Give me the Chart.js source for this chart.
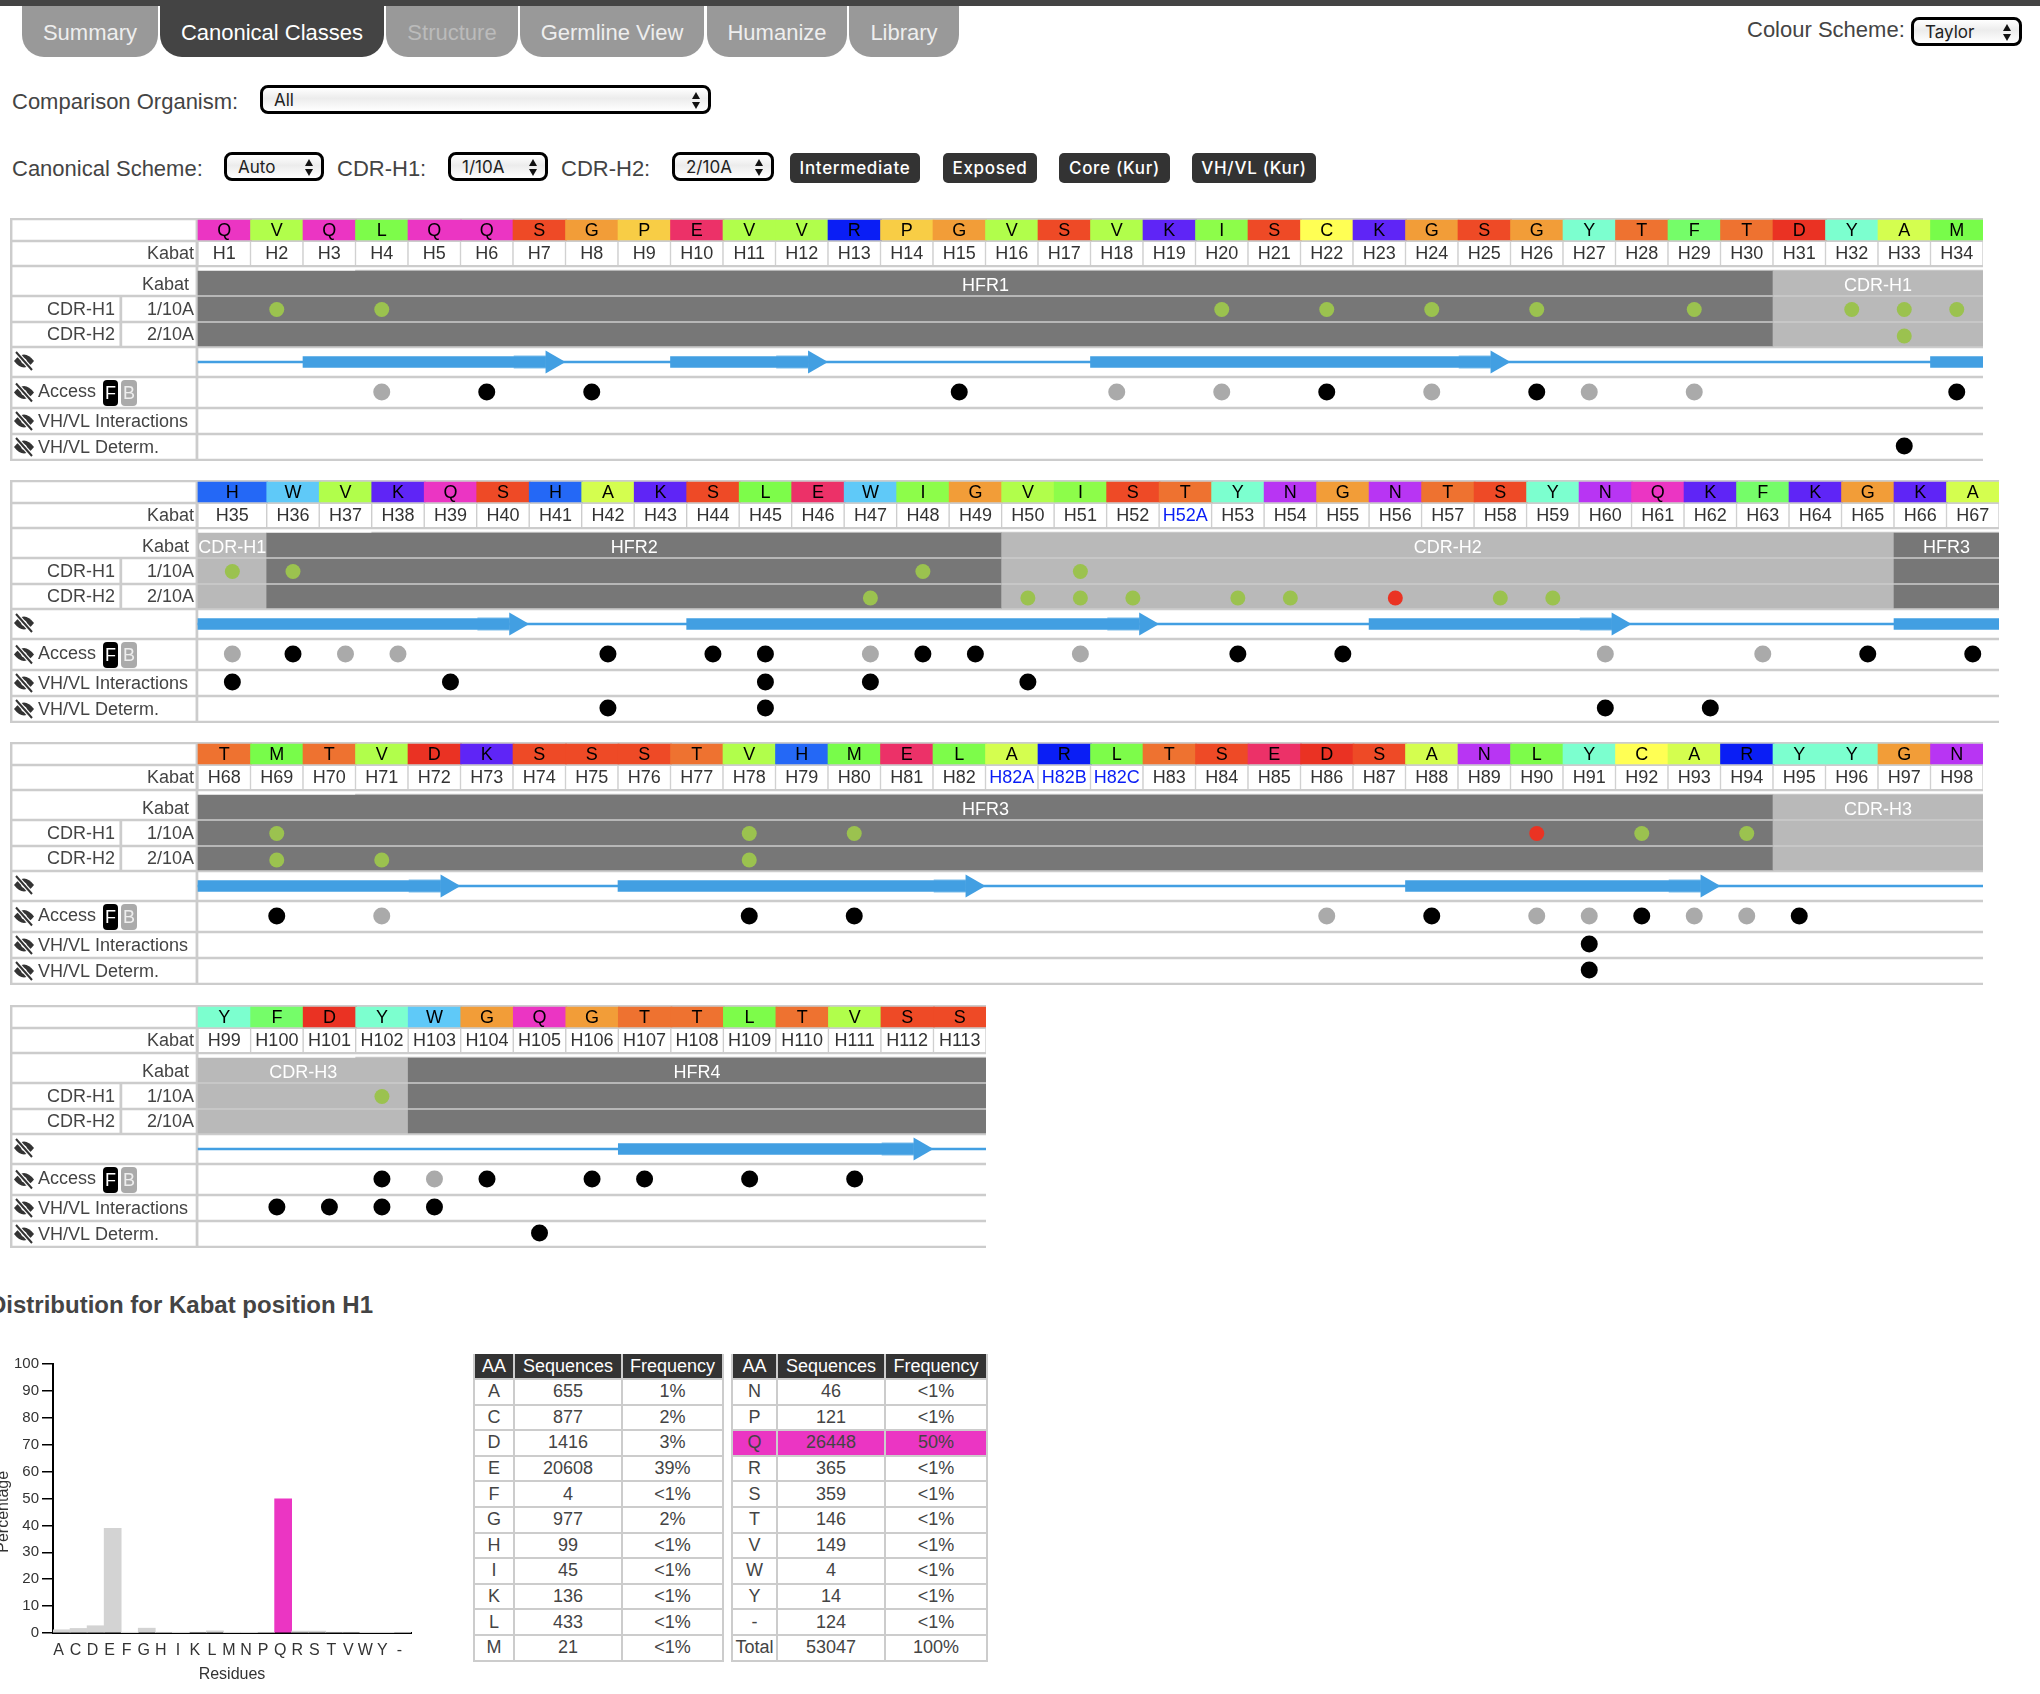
<!DOCTYPE html>
<html>
<head>
<meta charset="utf-8">
<title>Canonical Classes</title>
<script src="https://cdn.jsdelivr.net/npm/chart.js@4"></script>
<style>
html, body { margin: 0; padding: 0; background: #fff; }
body { position: relative; width: 2040px; height: 1694px; overflow: hidden; font-family: "Liberation Sans", Arial, sans-serif; color: #444; }
.abs { position: absolute; white-space: nowrap; }
#topbar { left: 0; top: 0; width: 2040px; height: 6px; background: #444; }
.tab { top: 6px; height: 51px; line-height: 53px; text-align: center; background: #999; color: #eee; font-size: 22px; border-radius: 0 0 22px 22px; }
.tab.on { background: #444; color: #fff; }
.tab.off { color: #bbb; }
.lab { font-size: 22px; line-height: 26px; color: #444; }
.sel { box-sizing: border-box; height: 29px; line-height: 24px; border: 3px solid #000; border-radius: 8px; background: linear-gradient(#fff, #ececec 45%, #fff); color: #222; font-family: Inter, "Liberation Sans", sans-serif; font-size: 17px; padding-left: 11px; }
.sel i { position: absolute; right: 8px; width: 0; height: 0; border-left: 4px solid transparent; border-right: 4px solid transparent; }
.sel i.u { top: 4px; border-bottom: 7px solid #111; }
.sel i.d { top: 14px; border-top: 7px solid #111; }
.btn { top: 153px; height: 30px; line-height: 31px; text-align: center; background: #333; color: #fff; font-family: Inter, "Liberation Sans", sans-serif; font-size: 17px; font-weight: 500; letter-spacing: .7px; border-radius: 5px; }
#dist-title { left: -11px; top: 1291px; font-size: 24px; line-height: 28px; font-weight: bold; color: #444; }
canvas { position: absolute; display: block; }
table.freq { position: absolute; top: 1354px; border-collapse: collapse; table-layout: fixed; font-size: 18px; color: #444; text-align: center; }
table.freq th { background: #333; color: #fff; font-weight: normal; height: 24px; padding: 0; border: 2px solid #ccc; border-top: 0; }
table.freq td { height: 23.6px; padding: 0; border: 2px solid #ccc; }
table.freq td.hit { background: #eb35c3; }
</style>
</head>
<body>
<div class="abs" id="topbar"></div>
<div class="abs tab" style="left:22px;width:136px">Summary</div>
<div class="abs tab on" style="left:160px;width:224px">Canonical Classes</div>
<div class="abs tab off" style="left:386px;width:132px">Structure</div>
<div class="abs tab" style="left:520px;width:184px">Germline View</div>
<div class="abs tab" style="left:707px;width:140px">Humanize</div>
<div class="abs tab" style="left:849px;width:110px">Library</div>

<div class="abs lab" style="left:1747px;top:17px">Colour Scheme:</div>
<div class="abs sel" style="left:1911px;top:17px;width:111px">Taylor<i class="u"></i><i class="d"></i></div>

<div class="abs lab" style="left:12px;top:89px">Comparison Organism:</div>
<div class="abs sel" style="left:260px;top:85px;width:451px">All<i class="u"></i><i class="d"></i></div>

<div class="abs lab" style="left:12px;top:156px">Canonical Scheme:</div>
<div class="abs sel" style="left:224px;top:152px;width:100px">Auto<i class="u"></i><i class="d"></i></div>
<div class="abs lab" style="left:337px;top:156px">CDR-H1:</div>
<div class="abs sel" style="left:448px;top:152px;width:100px">1/10A<i class="u"></i><i class="d"></i></div>
<div class="abs lab" style="left:561px;top:156px">CDR-H2:</div>
<div class="abs sel" style="left:672px;top:152px;width:102px">2/10A<i class="u"></i><i class="d"></i></div>
<div class="abs btn" style="left:790px;width:130px">Intermediate</div>
<div class="abs btn" style="left:943px;width:94px">Exposed</div>
<div class="abs btn" style="left:1059px;width:111px">Core (Kur)</div>
<div class="abs btn" style="left:1192px;width:124px">VH/VL (Kur)</div>

<canvas id="track1" style="left:10px;top:218px"></canvas>
<canvas id="track2" style="left:10px;top:480px"></canvas>
<canvas id="track3" style="left:10px;top:742px"></canvas>
<canvas id="track4" style="left:10px;top:1005px"></canvas>

<div class="abs" id="dist-title">Distribution for Kabat position H1</div>
<canvas id="dist-chart" style="left:-10px;top:1340px"></canvas>
<table class="freq" id="freq-left" style="left:473px;width:251px"></table>
<table class="freq" id="freq-right" style="left:731px;width:257px"></table>

<script>
// residues and Kabat positions, one pair per alignment block
const residues1 = ['Q','V','Q','L','Q','Q','S','G','P','E','V','V','R','P','G','V','S','V','K','I','S','C','K','G','S','G','Y','T','F','T','D','Y','A','M'];
const kabat1 = ['H1','H2','H3','H4','H5','H6','H7','H8','H9','H10','H11','H12','H13','H14','H15','H16','H17','H18','H19','H20','H21','H22','H23','H24','H25','H26','H27','H28','H29','H30','H31','H32','H33','H34'];
const residues2 = ['H','W','V','K','Q','S','H','A','K','S','L','E','W','I','G','V','I','S','T','Y','N','G','N','T','S','Y','N','Q','K','F','K','G','K','A'];
const kabat2 = ['H35','H36','H37','H38','H39','H40','H41','H42','H43','H44','H45','H46','H47','H48','H49','H50','H51','H52','H52A','H53','H54','H55','H56','H57','H58','H59','H60','H61','H62','H63','H64','H65','H66','H67'];
const residues3 = ['T','M','T','V','D','K','S','S','S','T','V','H','M','E','L','A','R','L','T','S','E','D','S','A','N','L','Y','C','A','R','Y','Y','G','N'];
const kabat3 = ['H68','H69','H70','H71','H72','H73','H74','H75','H76','H77','H78','H79','H80','H81','H82','H82A','H82B','H82C','H83','H84','H85','H86','H87','H88','H89','H90','H91','H92','H93','H94','H95','H96','H97','H98'];
const residues4 = ['Y','F','D','Y','W','G','Q','G','T','T','L','T','V','S','S'];
const kabat4 = ['H99','H100','H101','H102','H103','H104','H105','H106','H107','H108','H109','H110','H111','H112','H113'];

// framework / CDR regions: name, first position, last position
const regions1 = [['HFR1','H1','H30'], ['CDR-H1','H31','H34']];
const regions2 = [['CDR-H1','H35','H35'], ['HFR2','H36','H49'], ['CDR-H2','H50','H65'], ['HFR3','H66','H67']];
const regions3 = [['HFR3','H68','H94'], ['CDR-H3','H95','H98']];
const regions4 = [['CDR-H3','H99','H102'], ['HFR4','H103','H113']];

// canonical key positions
const cdrH1Green1 = ['H2','H4','H20','H22','H24','H26','H29','H32','H33','H34'];
const cdrH2Green1 = ['H33'];
const cdrH1Green2 = ['H35','H36','H48','H51'];
const cdrH2Green2 = ['H47','H50','H51','H52','H53','H54','H58','H59'];
const cdrH2Red2 = ['H56'];
const cdrH1Green3 = ['H69','H78','H80','H92','H94'];
const cdrH1Red3 = ['H90'];
const cdrH2Green3 = ['H69','H71','H78'];
const cdrH1Green4 = ['H102'];

// beta strands: first position, last position, has arrow head
const strands1 = [['H3','H7',true], ['H10','H12',true], ['H18','H25',true], ['H34','H34',false]];
const strands2 = [['H35','H40',true], ['H44','H52',true], ['H56','H60',true], ['H66','H67',false]];
const strands3 = [['H68','H72',true], ['H76','H82',true], ['H88','H93',true]];
const strands4 = [['H107','H112',true]];

// accessibility, front (black) and back (grey)
const accessFront1 = ['H6','H8','H15','H22','H26','H34'];
const accessBack1 = ['H4','H18','H20','H24','H27','H29'];
const accessFront2 = ['H36','H42','H44','H45','H48','H49','H53','H55','H65','H67'];
const accessBack2 = ['H35','H37','H38','H47','H51','H60','H63'];
const accessFront3 = ['H69','H78','H80','H88','H92','H95'];
const accessBack3 = ['H71','H86','H90','H91','H93','H94'];
const accessFront4 = ['H102','H104','H106','H107','H109','H111'];
const accessBack4 = ['H103'];

const interactions2 = ['H35','H39','H45','H47','H50'];
const interactions3 = ['H91'];
const interactions4 = ['H100','H101','H102','H103'];
const determ1 = ['H33'];
const determ2 = ['H42','H45','H60','H62'];
const determ3 = ['H91'];
const determ4 = ['H105'];

// residue distribution at H1
const aaCodes = ['A','C','D','E','F','G','H','I','K','L','M','N','P','Q','R','S','T','V','W','Y','-'];
const seqCounts = [655,877,1416,20608,4,977,99,45,136,433,21,46,121,26448,365,359,146,149,4,14,124];
const freqLabels = ['1%','2%','3%','39%','<1%','2%','<1%','<1%','<1%','<1%','<1%','<1%','<1%','50%','<1%','<1%','<1%','<1%','<1%','<1%','<1%'];
const percentages = [1.2,1.7,2.7,38.9,0.1,1.8,0.2,0.1,0.3,0.8,0.1,0.1,0.2,49.9,0.7,0.7,0.3,0.3,0.1,0.1,0.2];
const yTicks = [0,10,20,30,40,50,60,70,80,90,100];
const totalSeqs = 53047;

const taylor = { A:'#d4fe4f', R:'#0a1ef5', N:'#b835f3', D:'#ea3223', C:'#ffff54', Q:'#eb35c3', E:'#ec3168', G:'#f29d38', H:'#2468f6', I:'#8dfd4a', L:'#7dfc4a', K:'#5f25f6', M:'#78fc4a', F:'#75fd69', P:'#f8cd45', S:'#ee4a26', T:'#ee7230', W:'#5fc9f8', Y:'#7cffcf', V:'#b1fe4b' };

const cellPx = 52.5, labelPx = 188, trackHeight = 243;
const labelUnits = labelPx / cellPx;
const rows = { residue:[2,22], kabat:[24,47], region:[53,77], cdr1:[79,103], cdr2:[105,128], strand:[130,158], access:[160,189], inter:[191,215], determ:[217,241] };
const ruleY = [1,23,48,78,104,129,159,190,216,242];
const lineCol = '#ccc', darkBand = '#777', lightBand = '#b9b9b9', strandCol = '#429fe2';
const FONT = '"Liberation Sans", Arial, sans-serif';
const mid = r => (r[0] + r[1]) / 2;

function eyeIcon(ctx, cx, cy) {
  ctx.save();
  ctx.fillStyle = '#333';
  ctx.beginPath();
  ctx.moveTo(cx - 10, cy);
  ctx.quadraticCurveTo(cx, cy - 13, cx + 10, cy);
  ctx.quadraticCurveTo(cx, cy + 13, cx - 10, cy);
  ctx.fill();
  ctx.fillStyle = '#fff';
  ctx.beginPath(); ctx.arc(cx, cy, 2.6, 0, Math.PI * 2); ctx.fill();
  ctx.strokeStyle = '#fff'; ctx.lineWidth = 4.5;
  ctx.beginPath(); ctx.moveTo(cx - 8, cy - 9); ctx.lineTo(cx + 8, cy + 9); ctx.stroke();
  ctx.strokeStyle = '#333'; ctx.lineWidth = 2;
  ctx.beginPath(); ctx.moveTo(cx - 8, cy - 9); ctx.lineTo(cx + 8, cy + 9); ctx.stroke();
  ctx.restore();
}

function buildTrack(id, t) {
  const wide = t.firstWide || 1;
  const edges = [0];
  t.kabat.forEach((k, i) => edges.push(edges[i] + (i === 0 ? wide : 1)));
  const span = edges[edges.length - 1];
  const idx = k => t.kabat.indexOf(k);
  const centre = k => (edges[idx(k)] + edges[idx(k) + 1]) / 2;

  const canvas = document.getElementById(id);
  canvas.width = Math.round(labelPx + span * cellPx);
  canvas.height = trackHeight;
  canvas.style.width = canvas.width + 'px';
  canvas.style.height = trackHeight + 'px';

  const sets = [];
  const band = (row, data, colors, extra) => sets.push(Object.assign({
    type: 'bar', indexAxis: 'y', grouped: false, barPercentage: 1, barThickness: row[1] - row[0],
    data: data.map(d => ({ x: d, y: mid(row) })), backgroundColor: colors, borderWidth: 0
  }, extra || {}));
  const dots = (ys, keys, color, r) => sets.push({
    type: 'scatter', data: keys.map(k => ({ x: centre(k), y: ys })), pointRadius: r,
    pointBackgroundColor: color, pointBorderWidth: 0, pointHoverRadius: r
  });

  // frame and row rules
  band([0, 2], [[-labelUnits, span]], lineCol);
  ruleY.slice(1).forEach(y => band([y - 1, y + 1], [[-labelUnits, span]], lineCol));
  band([52, 53], [[edges[3], span]], lineCol);
  band([0, trackHeight], [[-labelUnits, -labelUnits + 0.04], [-0.04, 0]], lineCol);
  band([rows.cdr1[0], rows.cdr2[1]], [[-1.49, -1.45]], lineCol);

  // residue cells and Kabat cells
  band(rows.residue, t.kabat.map((k, i) => [edges[i], edges[i + 1] + 0.02]), t.residues.map(r => taylor[r]));
  band(rows.kabat, t.kabat.map((k, i) => [edges[i], edges[i + 1]]), '#fff', { borderColor: lineCol, borderWidth: { left: 1, right: 1, top: 0, bottom: 0 }, borderSkipped: false });

  // regions
  const regionSpans = t.regions.map(r => [edges[idx(r[1])], edges[idx(r[2]) + 1]]);
  const regionCols = t.regions.map(r => r[0].startsWith('CDR') ? lightBand : darkBand);
  band(rows.region, regionSpans, regionCols);
  band(rows.cdr1, regionSpans, regionCols);
  band(rows.cdr2, regionSpans, regionCols);

  // strands
  const strandY = mid(rows.strand);
  band([strandY - 1, strandY + 1], [[0, span]], strandCol);
  const withHead = t.strands.filter(s => s[2]);
  band([strandY - 6.5, strandY + 6.5], withHead.map(s => [edges[idx(s[1]) + 1] - 0.98, edges[idx(s[1]) + 1] - 0.38]), '#a9d3f1');
  band([strandY - 5.5, strandY + 5.5], t.strands.map(s => [edges[idx(s[0])], edges[idx(s[1]) + 1] - (s[2] ? 0.38 : 0)]), strandCol);
  sets.push({
    type: 'scatter', data: withHead.map(s => ({ x: edges[idx(s[1]) + 1] - 0.253, y: strandY })),
    pointStyle: 'triangle', rotation: 90, pointRadius: 13.3, pointHoverRadius: 13.3, pointBackgroundColor: strandCol, pointBorderWidth: 0
  });

  // position markers
  dots(91.5, t.cdr1 || [], '#9bc24f', 7.5);
  dots(118, t.cdr2 || [], '#9bc24f', 7.5);
  dots(91.5, t.cdr1Red || [], '#ea3323', 7.5);
  dots(118, t.cdr2Red || [], '#ea3323', 7.5);
  dots(174, t.accessBack || [], '#aaa', 8.5);
  dots(174, t.accessFront || [], '#000', 8.5);
  dots(202, t.inter || [], '#000', 8.5);
  dots(228, t.determ || [], '#000', 8.5);

  sets.forEach((s, i) => { s.order = -i; });

  const cellText = {
    id: 'cellText',
    afterDatasetsDraw(chart) {
      const { ctx, scales: { x, y } } = chart;
      ctx.save();
      ctx.textBaseline = 'middle';
      ctx.font = '18px ' + FONT;
      ctx.textAlign = 'center';
      t.kabat.forEach((k, i) => {
        const cx = x.getPixelForValue((edges[i] + edges[i + 1]) / 2);
        ctx.fillStyle = '#000';
        ctx.fillText(t.residues[i], cx, y.getPixelForValue(mid(rows.residue)) + 1);
        ctx.fillStyle = /[A-Z]$/.test(k) ? '#0a1ef5' : '#333';
        ctx.fillText(k, cx, y.getPixelForValue(mid(rows.kabat)) + 1);
      });
      ctx.fillStyle = '#fff';
      t.regions.forEach((r, i) => {
        ctx.fillText(r[0], x.getPixelForValue((regionSpans[i][0] + regionSpans[i][1]) / 2), y.getPixelForValue(mid(rows.region)) + 3);
      });
      // left hand labels
      ctx.fillStyle = '#444';
      ctx.textAlign = 'right';
      ctx.fillText('Kabat', 184, mid(rows.kabat) + 1);
      ctx.fillText('Kabat', 179, mid(rows.region) + 2);
      ctx.fillText('1/10A', 184, mid(rows.cdr1) + 1);
      ctx.fillText('2/10A', 184, mid(rows.cdr2) + 1);
      ctx.textAlign = 'center';
      ctx.fillText('CDR-H1', 71, mid(rows.cdr1) + 1);
      ctx.fillText('CDR-H2', 71, mid(rows.cdr2) + 1);
      ctx.textAlign = 'left';
      ctx.fillText('Access', 28, mid(rows.access));
      ctx.fillText('VH/VL Interactions', 28, mid(rows.inter) + 1);
      ctx.fillText('VH/VL Determ.', 28, mid(rows.determ) + 1);
      eyeIcon(ctx, 14, mid(rows.strand) - 1);
      eyeIcon(ctx, 14, mid(rows.access));
      eyeIcon(ctx, 14, mid(rows.inter));
      eyeIcon(ctx, 14, mid(rows.determ));
      ctx.beginPath(); ctx.roundRect(93, 162, 15, 26, 4); ctx.fillStyle = '#000'; ctx.fill();
      ctx.beginPath(); ctx.roundRect(111, 162, 16, 26, 4); ctx.fillStyle = '#aaa'; ctx.fill();
      ctx.fillStyle = '#fff'; ctx.textAlign = 'center';
      ctx.fillText('F', 100.5, 176);
      ctx.fillStyle = '#eee';
      ctx.fillText('B', 119, 176);
      ctx.restore();
    }
  };

  new Chart(canvas, {
    type: 'bar',
    data: { datasets: sets },
    options: {
      responsive: false, animation: false, events: [],
      layout: { padding: 0, autoPadding: false },
      plugins: { legend: { display: false }, tooltip: { enabled: false } },
      scales: {
        x: { type: 'linear', display: false, min: -labelUnits, max: span, offset: false },
        y: { type: 'linear', display: false, min: 0, max: trackHeight, reverse: true, offset: false }
      }
    },
    plugins: [cellText]
  });
}

buildTrack('track1', { residues: residues1, kabat: kabat1, regions: regions1, cdr1: cdrH1Green1, cdr2: cdrH2Green1, strands: strands1, accessFront: accessFront1, accessBack: accessBack1, determ: determ1 });
buildTrack('track2', { residues: residues2, kabat: kabat2, regions: regions2, firstWide: 1.31, cdr1: cdrH1Green2, cdr2: cdrH2Green2, cdr2Red: cdrH2Red2, strands: strands2, accessFront: accessFront2, accessBack: accessBack2, inter: interactions2, determ: determ2 });
buildTrack('track3', { residues: residues3, kabat: kabat3, regions: regions3, cdr1: cdrH1Green3, cdr1Red: cdrH1Red3, cdr2: cdrH2Green3, strands: strands3, accessFront: accessFront3, accessBack: accessBack3, inter: interactions3, determ: determ3 });
buildTrack('track4', { residues: residues4, kabat: kabat4, regions: regions4, cdr1: cdrH1Green4, strands: strands4, accessFront: accessFront4, accessBack: accessBack4, inter: interactions4, determ: determ4 });

// distribution chart
const distCanvas = document.getElementById('dist-chart');
distCanvas.width = 460; distCanvas.height = 350;
distCanvas.style.width = '460px'; distCanvas.style.height = '350px';
new Chart(distCanvas, {
  type: 'bar',
  data: {
    labels: aaCodes,
    datasets: [{ data: percentages, backgroundColor: aaCodes.map(a => a === 'Q' ? taylor.Q : '#d3d3d3'), categoryPercentage: 1, barPercentage: 1 }]
  },
  options: {
    responsive: false, animation: false, events: [],
    layout: { padding: { top: 24, right: 39, left: 0, bottom: 0 }, autoPadding: false },
    plugins: { legend: { display: false }, tooltip: { enabled: false } },
    scales: {
      x: {
        afterFit: s => { s.height = 57; },
        grid: { display: false },
        border: { color: '#000', width: 2 },
        ticks: { color: '#333', font: { size: 16, family: FONT }, padding: 0, labelOffset: -3, autoSkip: false, maxRotation: 0 },
        title: { display: true, text: 'Residues', color: '#333', font: { size: 16, family: FONT }, padding: { top: 0, bottom: 6 } }
      },
      y: {
        min: 0, max: 100,
        afterBuildTicks: s => { s.ticks = yTicks.map(v => ({ value: v })); },
        afterFit: s => { s.width = 63; },
        grid: { drawOnChartArea: false, color: '#000', lineWidth: 1.5, tickLength: 11 },
        border: { color: '#000', width: 2 },
        ticks: { color: '#333', font: { size: 15, family: FONT }, padding: 3 },
        title: { display: true, text: 'Percentage      ', color: '#333', font: { size: 16, family: FONT }, padding: { top: 4, bottom: 0 } }
      }
    }
  }
});

// frequency tables
function fillTable(id, from, to, withTotal) {
  let html = '<colgroup><col style="width:' + (withTotal ? 45 : 40) + 'px"><col style="width:108px"><col></colgroup><tr><th>AA</th><th>Sequences</th><th>Frequency</th></tr>';
  for (let i = from; i < to; i++) {
    const c = aaCodes[i] === 'Q' ? ' class="hit"' : '';
    html += '<tr><td' + c + '>' + aaCodes[i] + '</td><td' + c + '>' + seqCounts[i] + '</td><td' + c + '>' + freqLabels[i].replace('<', '&lt;') + '</td></tr>';
  }
  if (withTotal) html += '<tr><td>Total</td><td>' + totalSeqs + '</td><td>100%</td></tr>';
  document.getElementById(id).innerHTML = html;
}
fillTable('freq-left', 0, 11, false);
fillTable('freq-right', 11, 21, true);
</script>
</body>
</html>
